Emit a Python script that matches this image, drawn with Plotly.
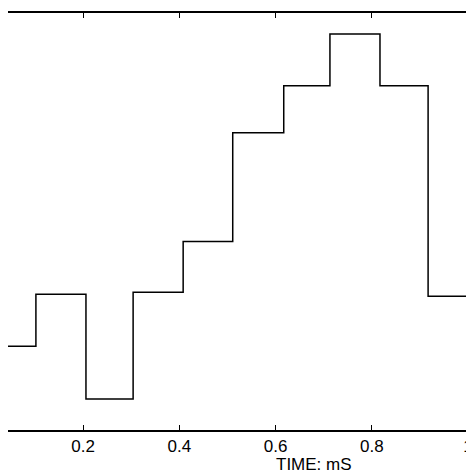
import plotly.graph_objects as go

# step waveform (time in mS, level in arbitrary units)
times = [0.0, 0.102, 0.206, 0.304, 0.408, 0.511, 0.617, 0.713, 0.817, 0.917, 1.04]
levels = [84, 136, 31, 138, 189, 298, 345, 397, 345, 134, 134]

tick_vals = [0.2, 0.4, 0.6, 0.8, 1]
tick_text = ['0.2', '0.4', '0.6', '0.8', '1']

fig = go.Figure()
fig.add_trace(go.Scatter(
    x=times, y=levels, mode='lines', line_shape='hv',
    line=dict(color='black', width=1.5), showlegend=False
))

fig.update_layout(
    width=474, height=474,
    paper_bgcolor='white', plot_bgcolor='white',
    margin=dict(l=0, r=0, t=5, b=52),
    font=dict(family='Liberation Sans, Arial', size=17, color='black'),
    xaxis=dict(range=[0.044, 1.029], tickvals=tick_vals, ticktext=tick_text,
               ticks='inside', ticklen=5, tickcolor='black', showline=True,
               linecolor='black', linewidth=1.5, mirror='ticks', showgrid=False,
               zeroline=False),
    yaxis=dict(range=[0, 418], showticklabels=False, showgrid=False,
               zeroline=False, showline=False),
    annotations=[dict(text='TIME: mS', x=0.645, y=-0.055, xref='paper', yref='paper',
                      showarrow=False, xanchor='center', yanchor='top',
                      font=dict(size=17))]
)

fig.write_html("out.html")
